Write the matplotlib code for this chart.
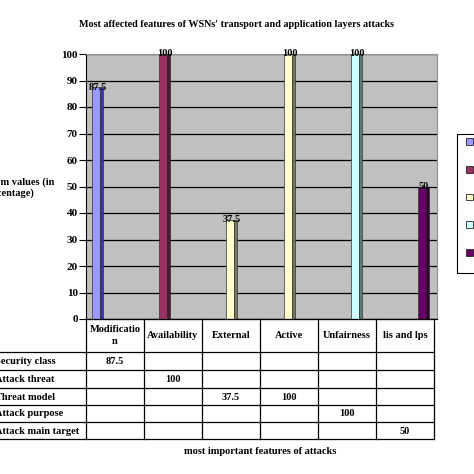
import numpy as np
import matplotlib.pyplot as plt
from matplotlib.patches import Patch, Rectangle

nan = np.nan

categories = ["Modificatio\nn", "Availability", "External", "Active", "Unfairness", "lis and lps"]
series_names = ["Security class", "Attack threat", "Threat model", "Attack purpose", "Attack main target"]

security_class = [87.5, nan, nan, nan, nan, nan]
attack_threat = [nan, 100, nan, nan, nan, nan]
threat_model = [nan, nan, 37.5, 100, nan, nan]
attack_purpose = [nan, nan, nan, nan, 100, nan]
attack_main_target = [nan, nan, nan, nan, nan, 50]

series_values = [security_class, attack_threat, threat_model, attack_purpose, attack_main_target]
face_colors = ["#9999FF", "#993366", "#FFFFCC", "#CCFFFF", "#660066"]
side_colors = ["#3a3a99", "#4d1a33", "#77775e", "#5e7777", "#330033"]

plt.rcParams['font.family'] = ['Liberation Serif', 'DejaVu Serif']
plt.rcParams['font.weight'] = 'bold'
FS = 7.5

W, H = 474, 474
fig = plt.figure(figsize=(W / 100, H / 100), dpi=100)

# plot area in pixels: x 86..437, y 54..319
ax = fig.add_axes([86 / W, 1 - 319 / H, (437 - 86) / W, (319 - 54) / H])
ax.set_facecolor("#C0C0C0")
ax.set_ylim(0, 100)
ax.set_xlim(-0.5, 5.55)
ax.set_yticks(np.arange(0, 101, 10))
ax.yaxis.grid(True, color="black", linewidth=0.9)
ax.set_axisbelow(True)
ax.set_xticks([])
ax.tick_params(axis='y', length=5, width=0.8, labelsize=8, pad=1)
for lab in ax.get_yticklabels():
    lab.set_fontweight('bold')
for s in ['top', 'right']:
    ax.spines[s].set_color("#909090")

x = np.arange(len(categories))
face_w = 0.138
side_w = 0.05
step = 0.155
for i, vals in enumerate(series_values):
    off = (i - 2) * step - 0.018
    v = np.array(vals, dtype=float)
    ax.bar(x + off, v, width=face_w, color=face_colors[i], edgecolor="#333333",
           linewidth=0.5, zorder=3)
    ax.bar(x + off + face_w / 2 + side_w / 2, v, width=side_w, color=side_colors[i],
           edgecolor="#222222", linewidth=0.4, zorder=3)
    for xi, vi in zip(x, v):
        if not np.isnan(vi):
            ax.text(xi + off + side_w / 2, vi, f"{vi:g}", ha='center', va='center',
                    fontsize=7.5, fontweight='bold', zorder=4)

# overlay in pixel coordinates for table, frame and free text
ov = fig.add_axes([0, 0, 1, 1])
ov.set_xlim(0, W)
ov.set_ylim(H, 0)
ov.axis('off')

# legend (mostly cut off at the right edge); frame drawn separately
handles = [Patch(facecolor=face_colors[i], edgecolor="#222222", linewidth=0.6)
           for i in range(len(series_names))]
leg = fig.legend(handles, series_names, loc='upper left',
                 bbox_to_anchor=(462 / W, 1 - 134 / H), fontsize=FS,
                 handlelength=0.7, handleheight=0.6, labelspacing=1.8,
                 borderpad=0.4, borderaxespad=0, handletextpad=0.6,
                 frameon=False)
ov.add_patch(Rectangle((457, 134), 60, 139, facecolor="white", edgecolor="black",
                       linewidth=0.8, zorder=0))

col_edges = 86 + 58 * np.arange(len(categories) + 1)
row_edges = [319, 352, 370, 388, 405, 422, 439]
lab_left = -20

ov.plot([col_edges[0], col_edges[-1]], [row_edges[0]] * 2, color="black", lw=0.9)
for y in row_edges[1:]:
    ov.plot([lab_left, col_edges[-1]], [y, y], color="black", lw=0.9)
for cx in col_edges:
    ov.plot([cx, cx], [row_edges[0], row_edges[-1]], color="black", lw=0.9)

for j, cat in enumerate(categories):
    cx = (col_edges[j] + col_edges[j + 1]) / 2
    ov.text(cx, (row_edges[0] + row_edges[1]) / 2, cat, ha='center', va='center',
            fontsize=FS, fontweight='bold', linespacing=1.45)

for i, name in enumerate(series_names):
    cy = (row_edges[i + 1] + row_edges[i + 2]) / 2 + 0.5
    ov.text(-5, cy, name, ha='left', va='center', fontsize=FS, fontweight='bold')
    for j, v in enumerate(series_values[i]):
        if not np.isnan(v):
            cx = (col_edges[j] + col_edges[j + 1]) / 2
            ov.text(cx, cy, f"{v:g}", ha='center', va='center', fontsize=FS,
                    fontweight='bold')

ov.text(237, 24, "Most affected features of WSNs' transport and application layers attacks",
        ha='center', va='center', fontsize=7.3, fontweight='bold')
ov.text(9, 188, "Maximum values (in\npercentage)", ha='center', va='center',
        multialignment='center', fontsize=FS, fontweight='bold')
ov.text(260, 452, "most important features of attacks", ha='center', va='center',
        fontsize=FS, fontweight='bold')

fig.savefig("out.png", dpi=100)
